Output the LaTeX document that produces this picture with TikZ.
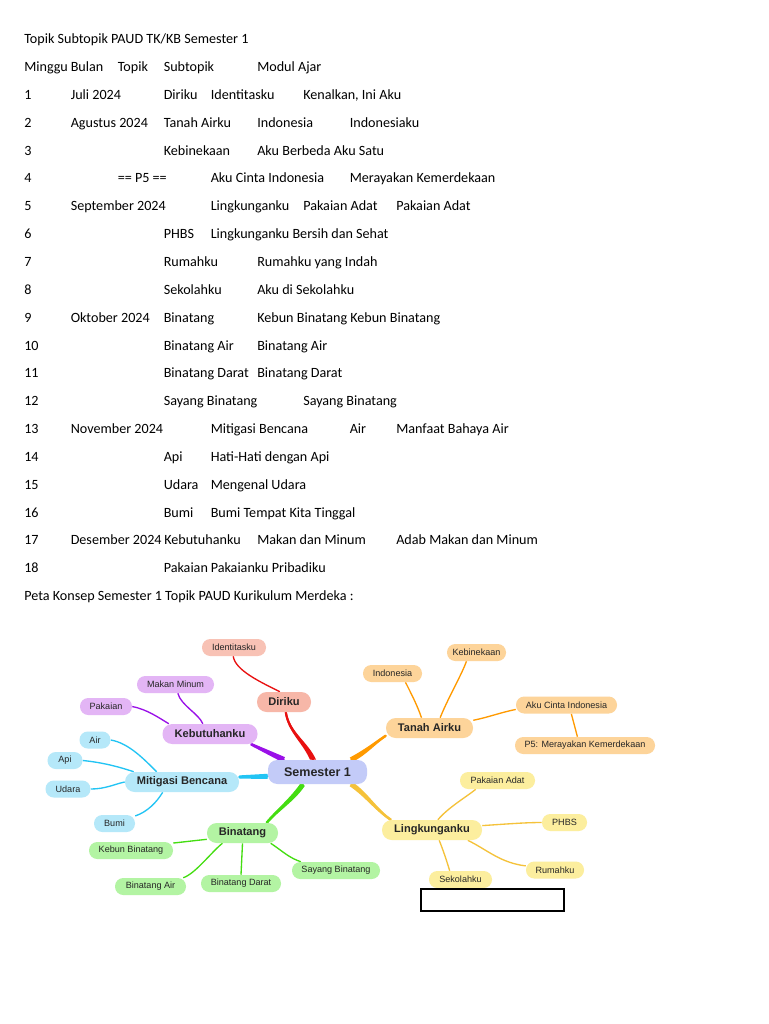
\documentclass[tikz,border=0pt]{standalone}
\usepackage{fontspec}
\usetikzlibrary{calc}
\setmainfont{Carlito}
\newfontfamily\mapfont{Liberation Sans}
\definecolor{semF}{HTML}{C3CBF8}
\definecolor{dirF}{HTML}{F7B7A8}\definecolor{dirL}{HTML}{E81010}
\definecolor{kebF}{HTML}{E3B5F5}\definecolor{kebL}{HTML}{9A10E8}
\definecolor{mitF}{HTML}{B5E8F9}\definecolor{mitL}{HTML}{22C4F4}
\definecolor{binF}{HTML}{B3F4A3}\definecolor{binL}{HTML}{44DD11}
\definecolor{tanF}{HTML}{FDD49A}\definecolor{tanL}{HTML}{FF9A00}
\definecolor{linF}{HTML}{FCEE9E}\definecolor{linL}{HTML}{F5C23A}
\pgfdeclarelayer{bglayer}
\pgfsetlayers{bglayer,main}
\begin{document}
\begin{tikzpicture}[x=0.75pt,y=-0.75pt,
  tx/.style={anchor=base west,inner sep=0pt,font=\fontsize{10.6}{12}\selectfont},
  sub/.style={rounded corners=6.2pt,inner xsep=1pt,inner ysep=0pt,minimum height=12.75pt,
    font=\mapfont\fontsize{6.8}{8}\selectfont,text=black!85},
  main/.style={rounded corners=7.3pt,inner xsep=1pt,inner ysep=0pt,minimum height=15pt,
    font=\mapfont\bfseries\fontsize{8.3}{10}\selectfont,text=black!85},
  thin/.style={line width=1pt},
  spine/.style={line width=1.6pt,line cap=round}]
\useasboundingbox (0,0) rectangle (768,1024);
\begin{pgfonlayer}{bglayer}
\fill[white] (0,0) rectangle (768,1024);
\end{pgfonlayer}
% ---------- table text ----------
\begin{scope}[shift={(0,1)}]
\node[tx] (ttl) at (24,42.5) {Topik Subtopik PAUD TK/KB Semester 1};
\node[tx] (h1) at (24,70.5) {Minggu};
\node[tx] (h2) at (70.5,70.5) {Bulan};
\node[tx] (h3) at (117.5,70.5) {Topik};
\node[tx] (h4) at (163.5,70.5) {Subtopik};
\node[tx] (h5) at (257,70.5) {Modul Ajar};
% row 1
\node[tx] (n1) at (24,98.5) {1};
\node[tx] (r1a) at (70.5,98.5) {Juli 2024};
\node[tx] (r1b) at (163.5,98.5) {Diriku};
\node[tx] (r1c) at (210.5,98.5) {Identitasku};
\node[tx] (r1d) at (303,98.5) {Kenalkan, Ini Aku};
% row 2
\node[tx] (n2) at (24,126.5) {2};
\node[tx] (r2a) at (70.5,126.5) {Agustus 2024};
\node[tx] (r2b) at (163.5,126.5) {Tanah Airku};
\node[tx] (r2c) at (257,126.5) {Indonesia};
\node[tx] (r2d) at (349.5,126.5) {Indonesiaku};
% row 3
\node[tx] (n3) at (24,154) {3};
\node[tx] (r3b) at (163.5,154) {Kebinekaan};
\node[tx] (r3c) at (257,154) {Aku Berbeda Aku Satu};
% row 4
\node[tx] (n4) at (24,181.5) {4};
\node[tx] (r4a) at (117.5,181.5) {== P5 ==};
\node[tx] (r4b) at (210.5,181.5) {Aku Cinta Indonesia};
\node[tx] (r4c) at (349.5,181.5) {Merayakan Kemerdekaan};
% row 5
\node[tx] (n5) at (24,209.5) {5};
\node[tx] (r5a) at (70.5,209.5) {September 2024};
\node[tx] (r5b) at (210.5,209.5) {Lingkunganku};
\node[tx] (r5c) at (303,209.5) {Pakaian Adat};
\node[tx] (r5d) at (396,209.5) {Pakaian Adat};
% row 6
\node[tx] (n6) at (24,237.5) {6};
\node[tx] (r6b) at (163.5,237.5) {PHBS};
\node[tx] (r6c) at (210.5,237.5) {Lingkunganku Bersih dan Sehat};
% row 7
\node[tx] (n7) at (24,265.5) {7};
\node[tx] (r7b) at (163.5,265.5) {Rumahku};
\node[tx] (r7c) at (257,265.5) {Rumahku yang Indah};
% row 8
\node[tx] (n8) at (24,293.5) {8};
\node[tx] (r8b) at (163.5,293.5) {Sekolahku};
\node[tx] (r8c) at (257,293.5) {Aku di Sekolahku};
% row 9
\node[tx] (n9) at (24,321.5) {9};
\node[tx] (r9a) at (70.5,321.5) {Oktober 2024};
\node[tx] (r9b) at (163.5,321.5) {Binatang};
\node[tx] (r9c) at (257,321.5) {Kebun Binatang};
\node[tx] (r9d) at (350,321.5) {Kebun Binatang};
% row 10
\node[tx] (n10) at (24,349.5) {10};
\node[tx] (r10b) at (163.5,349.5) {Binatang Air};
\node[tx] (r10c) at (257,349.5) {Binatang Air};
% row 11
\node[tx] (n11) at (24,376.5) {11};
\node[tx] (r11b) at (163.5,376.5) {Binatang Darat};
\node[tx] (r11c) at (257,376.5) {Binatang Darat};
% row 12
\node[tx] (n12) at (24,404.5) {12};
\node[tx] (r12b) at (163.5,404.5) {Sayang Binatang};
\node[tx] (r12c) at (303,404.5) {Sayang Binatang};
% row 13
\node[tx] (n13) at (24,432.5) {13};
\node[tx] (r13a) at (70.5,432.5) {November 2024};
\node[tx] (r13b) at (210.5,432.5) {Mitigasi Bencana};
\node[tx] (r13c) at (349.5,432.5) {Air};
\node[tx] (r13d) at (396,432.5) {Manfaat Bahaya Air};
% row 14
\node[tx] (n14) at (24,460.5) {14};
\node[tx] (r14b) at (163.5,460.5) {Api};
\node[tx] (r14c) at (210.5,460.5) {Hati-Hati dengan Api};
% row 15
\node[tx] (n15) at (24,488.5) {15};
\node[tx] (r15b) at (163.5,488.5) {Udara};
\node[tx] (r15c) at (210.5,488.5) {Mengenal Udara};
% row 16
\node[tx] (n16) at (24,516.5) {16};
\node[tx] (r16b) at (163.5,516.5) {Bumi};
\node[tx] (r16c) at (210.5,516.5) {Bumi Tempat Kita Tinggal};
% row 17
\node[tx] (n17) at (24,543.5) {17};
\node[tx] (r17a) at (70.5,543.5) {Desember 2024};
\node[tx] (r17b) at (164,543.5) {Kebutuhanku};
\node[tx] (r17c) at (257,543.5) {Makan dan Minum};
\node[tx] (r17d) at (396,543.5) {Adab Makan dan Minum};
% row 18
\node[tx] (n18) at (24,571.5) {18};
\node[tx] (r18b) at (163.5,571.5) {Pakaian};
\node[tx] (r18c) at (210.5,571.5) {Pakaianku Pribadiku};
\node[tx] (peta) at (24,599.5) {Peta Konsep Semester 1 Topik PAUD Kurikulum Merdeka :};
\end{scope}
% ---------- mind map nodes ----------
\node[main,fill=semF,minimum width=74.25pt,minimum height=18pt,rounded corners=7pt,
  font=\mapfont\bfseries\fontsize{9.4}{11}\selectfont] (sem) at (317.5,772) {Semester 1};
\node[main,fill=dirF,minimum width=40.5pt] (dir) at (284,702) {Diriku};
\node[sub,fill=dirF!85!white,minimum width=48pt] (idt) at (234,647.5) {Identitasku};
\node[main,fill=kebF,minimum width=71.25pt] (keb) at (210,734) {Kebutuhanku};
\node[sub,fill=kebF,minimum width=57.75pt] (mak) at (175.5,684.5) {Makan Minum};
\node[sub,fill=kebF,minimum width=39pt] (pak) at (106,706.5) {Pakaian};
\node[main,fill=mitF,minimum width=85.5pt] (mit) at (182,782) {Mitigasi Bencana};
\node[sub,fill=mitF,minimum width=23.25pt] (air) at (95,740) {Air};
\node[sub,fill=mitF,minimum width=26.25pt] (api) at (65,760.5) {Api};
\node[sub,fill=mitF,minimum width=33.75pt] (uda) at (68,789) {Udara};
\node[sub,fill=mitF,minimum width=30.75pt] (bum) at (114.5,823.5) {Bumi};
\node[main,fill=binF,minimum width=53.25pt] (bin) at (242.5,833) {Binatang};
\node[sub,fill=binF,minimum width=63pt] (kbn) at (131,850.5) {Kebun Binatang};
\node[sub,fill=binF,minimum width=53.25pt] (ba) at (150.5,886.5) {Binatang Air};
\node[sub,fill=binF,minimum width=60pt] (bd) at (241,883.5) {Binatang Darat};
\node[sub,fill=binF,minimum width=66pt] (sb) at (336,870.5) {Sayang Binatang};
\node[main,fill=tanF,minimum width=65.25pt] (tan) at (429.5,728) {Tanah Airku};
\node[sub,fill=tanF,minimum width=44.25pt] (ind) at (392.5,673.5) {Indonesia};
\node[sub,fill=tanF,minimum width=44.25pt] (kbk) at (476.5,652.5) {Kebinekaan};
\node[sub,fill=tanF,minimum width=75.75pt] (aci) at (566.5,705) {Aku Cinta Indonesia};
\node[sub,fill=tanF,minimum width=105pt] (p5) at (585,745.5) {P5: Merayakan Kemerdekaan};
\node[main,fill=linF,minimum width=75pt] (lin) at (432,830) {Lingkunganku};
\node[sub,fill=linF,minimum width=56.25pt] (pka) at (497.5,780.5) {Pakaian Adat};
\node[sub,fill=linF,minimum width=33.75pt] (phb) at (564.5,822.5) {PHBS};
\node[sub,fill=linF,minimum width=43.5pt] (rum) at (555,870) {Rumahku};
\node[sub,fill=linF,minimum width=47.25pt] (sek) at (460.5,879.5) {Sekolahku};
\node[draw=black,line width=0.9pt,fill=white,minimum width=107.25pt,minimum height=16.5pt,inner sep=0pt] (box) at (492.5,900) {};
% ---------- connectors (behind nodes) ----------
\begin{pgfonlayer}{bglayer}
% Diriku (tapered)
\draw[thin,dirL] (idt.-95) .. controls +(2,14) and +(-20,-10) .. (dir.112);
\fill[dirL] ($(dir.-80)+(-1,0)$) .. controls +(3,20) and +(-8,-18) .. ($(sem.110)+(-3,0)$)
  -- ($(sem.110)+(3,0)$) .. controls +(-8,-18) and +(3,20) .. ($(dir.-80)+(1,0)$) -- cycle;
\draw[spine,dirL] (dir.-80) .. controls +(3,20) and +(-8,-18) .. (sem.110);
% Kebutuhanku
\draw[thin,kebL] (mak.-75) .. controls +(3,12) and +(-4,-10) .. (keb.125);
\draw[thin,kebL] (pak.east) .. controls +(15,3) and +(-10,-6) .. (keb.166);
\fill[kebL] ($(keb.-14)+(0.6,-1.2)$) -- ($(sem.160)+(1.2,-2.6)$) -- ($(sem.160)+(-1.2,2.6)$) -- ($(keb.-14)+(-0.6,1.2)$) -- cycle;
\draw[spine,kebL] (keb.-14) -- (sem.160);
% Mitigasi
\draw[thin,mitL] (air.east) .. controls +(18,3) and +(-12,-12) .. (mit.158);
\draw[thin,mitL] (api.east) .. controls +(20,2) and +(-15,-5) .. (mit.168);
\draw[thin,mitL] (uda.east) .. controls +(15,0) and +(-10,2) .. (mit.west);
\draw[thin,mitL] (bum.20) .. controls +(12,-4) and +(-6,10) .. (mit.-152);
\fill[mitL] ($(mit.5)+(0,-1.6)$) -- ($(sem.185)+(0,-2.6)$) -- ($(sem.185)+(0,2.6)$) -- ($(mit.5)+(0,1.6)$) -- cycle;
\draw[spine,mitL] (mit.5) -- (sem.185);
% Binatang
\fill[binL] ($(sem.-140)+(-1.9,-1.7)$) .. controls +(-10,15) and +(10,-12) .. ($(bin.23)+(-0.9,-0.8)$)
  -- ($(bin.23)+(0.9,0.8)$) .. controls +(10,-12) and +(-10,15) .. ($(sem.-140)+(1.9,1.7)$) -- cycle;
\draw[spine,binL] (sem.-140) .. controls +(-10,15) and +(10,-12) .. (bin.23);
\draw[thin,binL] (bin.190) -- (kbn.10);
\draw[thin,binL] (bin.-153) .. controls +(-12,10) and +(12,-4) .. (ba.15);
\draw[thin,binL] (bin.south) -- (bd.north);
\draw[thin,binL] (bin.-20) .. controls +(12,8) and +(-12,-4) .. (sb.166);
% Tanah Airku
\fill[tanL] ($(sem.20)+(-1.4,-2.2)$) .. controls +(15,-8) and +(-12,8) .. ($(tan.190)+(-0.6,-1)$)
  -- ($(tan.190)+(0.6,1)$) .. controls +(-12,8) and +(15,-8) .. ($(sem.20)+(1.4,2.2)$) -- cycle;
\draw[spine,tanL] (sem.20) .. controls +(15,-8) and +(-12,8) .. (tan.190);
\draw[thin,tanL] (ind.-34) .. controls +(6,12) and +(-4,-12) .. (tan.128);
\draw[thin,tanL] (tan.44) .. controls +(8,-20) and +(-4,12) .. (kbk.-139);
\draw[thin,tanL] (tan.10) .. controls +(15,-3) and +(-15,3) .. (aci.185);
\draw[thin,tanL] (aci.-61) .. controls +(2,8) and +(-2,-8) .. (p5.131);
% Lingkunganku
\fill[linL] ($(sem.-20)+(1.6,-1.9)$) .. controls +(15,10) and +(-15,-10) .. ($(lin.166)+(0.8,-0.9)$)
  -- ($(lin.166)+(-0.8,0.9)$) .. controls +(-15,-10) and +(15,10) .. ($(sem.-20)+(-1.6,1.9)$) -- cycle;
\draw[spine,linL] (sem.-20) .. controls +(15,10) and +(-15,-10) .. (lin.166);
\draw[thin,linL] (lin.60) .. controls +(10,-12) and +(-10,8) .. (pka.-158);
\draw[thin,linL] (lin.5) .. controls +(30,-2) and +(-15,0) .. (phb.west);
\draw[thin,linL] (lin.-16) .. controls +(20,10) and +(-25,-3) .. (rum.172);
\draw[thin,linL] (lin.-55) .. controls +(4,10) and +(-3,-10) .. (sek.141);
\end{pgfonlayer}
\end{tikzpicture}
\end{document}
